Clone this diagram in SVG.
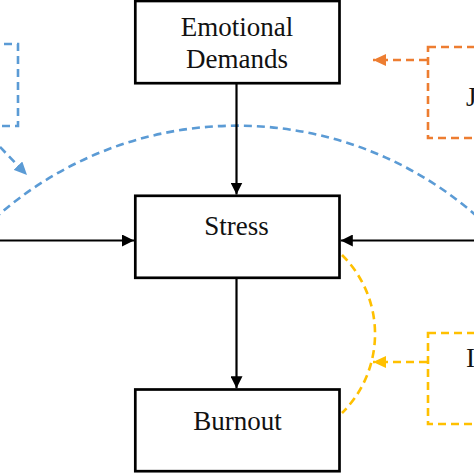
<svg xmlns="http://www.w3.org/2000/svg" width="474" height="474" viewBox="0 0 474 474">
<style>
.box{fill:#fff;stroke:#000;stroke-width:2.7}
.lbl{font-family:"Liberation Serif","Times New Roman",serif;font-size:27px;fill:#111;text-anchor:middle}
.part{font-family:"Liberation Serif","Times New Roman",serif;font-size:27px;fill:#111}
.solid{fill:none;stroke:#000;stroke-width:2.2}
.blue{fill:none;stroke:#5B9BD5;stroke-width:2.6;stroke-dasharray:8 5}
.orange{fill:none;stroke:#ED7D31;stroke-width:2.6;stroke-dasharray:8 5}
.yellow{fill:none;stroke:#FFC000;stroke-width:2.6;stroke-dasharray:8 5}
</style>
<defs>
<marker id="ak" markerUnits="userSpaceOnUse" markerWidth="14" markerHeight="12" refX="12" refY="6" orient="auto"><path d="M0,0 L12,6 L0,12 Z" fill="#000"/></marker>
<marker id="ab" markerUnits="userSpaceOnUse" markerWidth="14" markerHeight="12" refX="13" refY="6" orient="auto"><path d="M0,0 L13,6 L0,12 Z" fill="#5B9BD5"/></marker>
<marker id="ao" markerUnits="userSpaceOnUse" markerWidth="14" markerHeight="12" refX="13" refY="6" orient="auto"><path d="M0,0 L13,6 L0,12 Z" fill="#ED7D31"/></marker>
<marker id="ay" markerUnits="userSpaceOnUse" markerWidth="14" markerHeight="12" refX="13" refY="6" orient="auto"><path d="M0,0 L13,6 L0,12 Z" fill="#FFC000"/></marker>
</defs>
<g id="connectors">
<path class="blue" d="M-6 219 A363 363 0 0 1 480 219"/>
<path class="yellow" d="M342 255 A111 111 0 0 1 342 413"/>
<line class="solid" x1="236.5" y1="84" x2="236.5" y2="194.5" marker-end="url(#ak)"/>
<line class="solid" x1="236.5" y1="279" x2="236.5" y2="388.2" marker-end="url(#ak)"/>
<line class="solid" x1="0" y1="240.5" x2="134" y2="240.5" marker-end="url(#ak)"/>
<line class="solid" x1="474" y1="240.5" x2="340.8" y2="240.5" marker-end="url(#ak)"/>
<line class="blue" x1="0" y1="147" x2="27" y2="175" marker-end="url(#ab)"/>
<line class="orange" x1="427" y1="60" x2="373" y2="60" marker-end="url(#ao)"/>
<line class="yellow" x1="427" y1="362" x2="373" y2="362" marker-end="url(#ay)"/>
</g>
<g id="blue-box"><rect class="blue" x="-100" y="44" width="118" height="82"/></g>
<g id="orange-box"><rect class="orange" x="428" y="47" width="100" height="91"/><text class="part" x="466" y="106">J</text></g>
<g id="yellow-box"><rect class="yellow" x="428" y="333" width="100" height="91"/><text class="part" x="466" y="367">I</text></g>
<g id="emotional-demands"><rect class="box" x="135.3" y="1" width="204.2" height="82.2"/><text class="lbl" x="237" y="36">Emotional</text><text class="lbl" x="237" y="68">Demands</text></g>
<g id="stress"><rect class="box" x="135.3" y="195.8" width="204.2" height="82"/><text class="lbl" x="236.5" y="235">Stress</text></g>
<g id="burnout"><rect class="box" x="135.3" y="389.5" width="204.2" height="81.7"/><text class="lbl" x="237.5" y="430">Burnout</text></g>
</svg>
